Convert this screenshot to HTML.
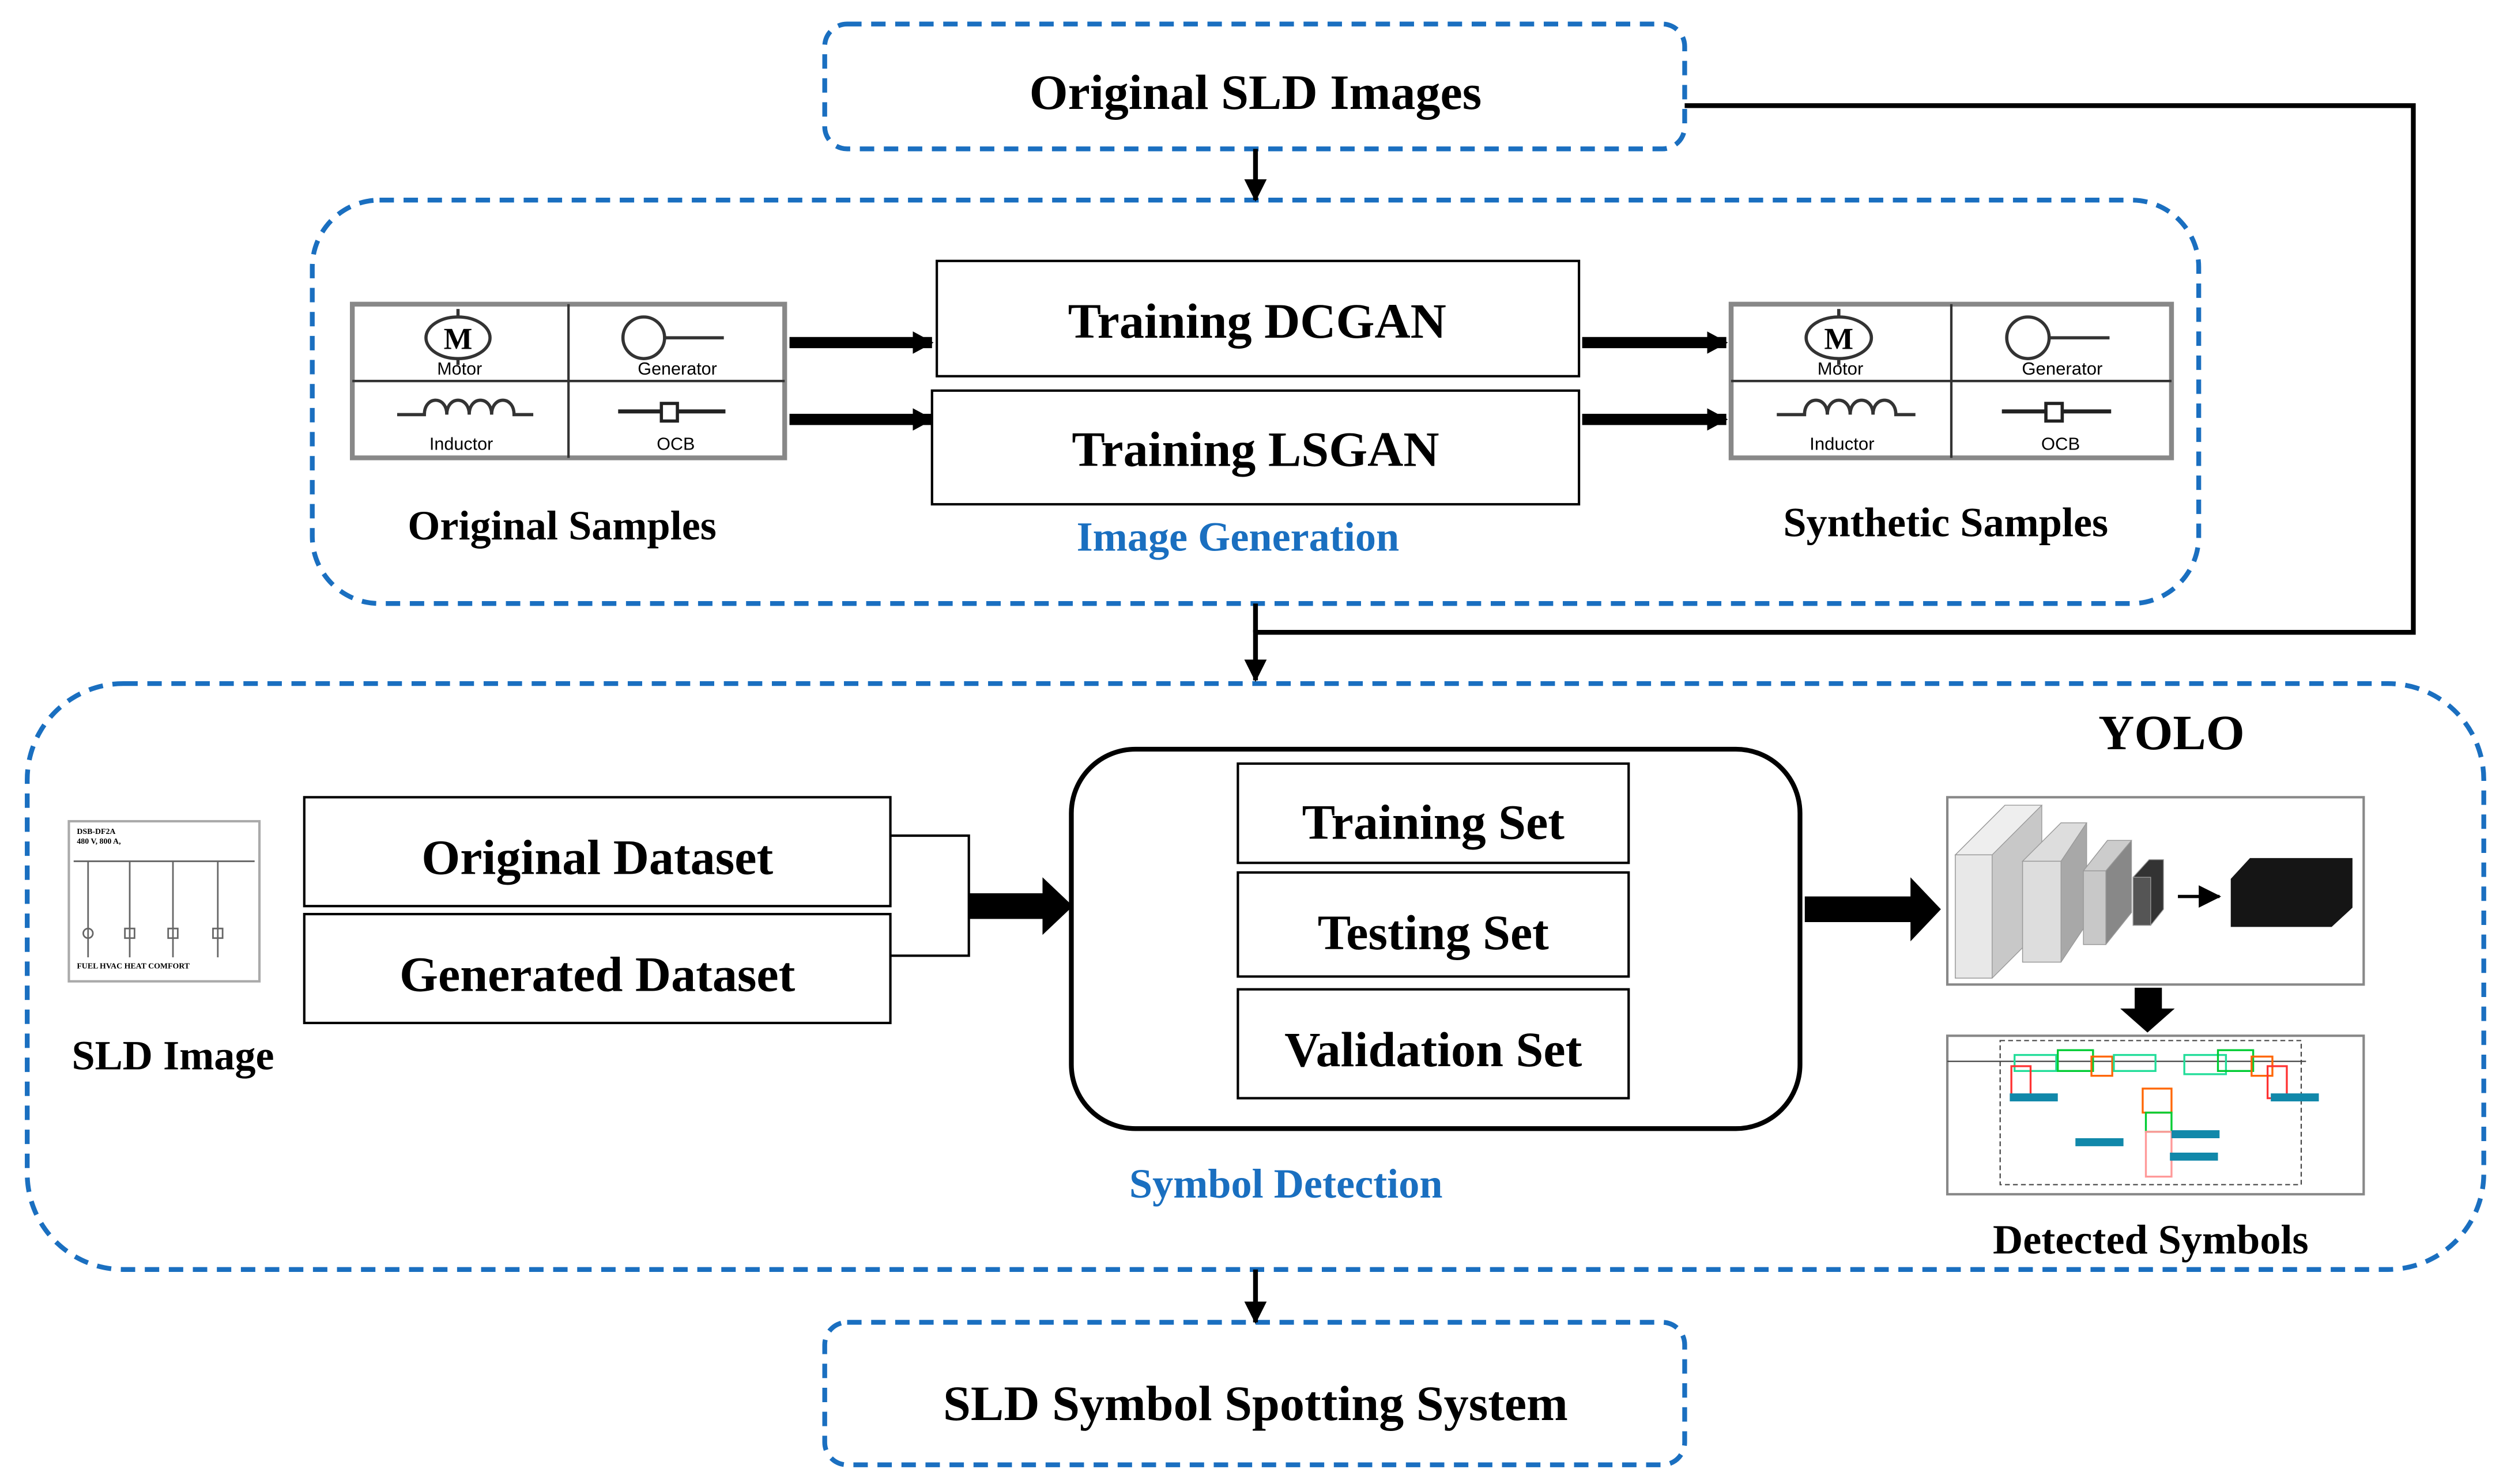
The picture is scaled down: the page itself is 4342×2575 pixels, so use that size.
<!DOCTYPE html>
<html><head><meta charset="utf-8"><style>
html,body{margin:0;padding:0;background:#fff}
svg{display:block}
text{font-family:"Liberation Serif",serif;font-weight:bold}
.t{font-size:31px;text-anchor:middle}
.l{font-size:26px;text-anchor:middle}
.b{fill:#1a6fc0}
.s{font-family:"Liberation Sans",sans-serif;font-weight:normal;font-size:11px;text-anchor:middle}
</style></head><body>
<svg width="4342" height="2575" viewBox="0 0 1563 927" preserveAspectRatio="none" xmlns="http://www.w3.org/2000/svg">
<defs>
<marker id="a" markerWidth="14" markerHeight="14" refX="13" refY="7" orient="auto" markerUnits="userSpaceOnUse"><path d="M0,0L14,7L0,14z" fill="#000"/></marker>
<marker id="a2" markerWidth="14" markerHeight="14" refX="12" refY="7" orient="auto" markerUnits="userSpaceOnUse"><path d="M0,0L13,7L0,14z" fill="#000"/></marker>
</defs>
<g fill="none" stroke="#1a6fc0" stroke-width="3" stroke-dasharray="9,6">
<rect x="515" y="15" width="537" height="78" rx="14"/>
<rect x="195" y="125" width="1178" height="252" rx="42"/>
<rect x="17" y="427" width="1534" height="366" rx="60"/>
<rect x="515" y="826" width="537" height="89" rx="14"/>
</g>
<text class="t" x="784" y="68">Original SLD Images</text>
<text class="t" x="784" y="887">SLD Symbol Spotting System</text>
<g stroke="#000" stroke-width="3" fill="none">
<path d="M1052,66H1507V395H784V425" marker-end="url(#a)"/>
<path d="M784,93V125" marker-end="url(#a)"/>
<path d="M784,377V395"/>
<path d="M784,793V826" marker-end="url(#a)"/>
</g>
<g stroke="#000" stroke-width="7" fill="none">
<path d="M493,214H582" marker-end="url(#a2)"/>
<path d="M493,262H582" marker-end="url(#a2)"/>
<path d="M988,214H1078" marker-end="url(#a2)"/>
<path d="M988,262H1078" marker-end="url(#a2)"/>
</g>
<g stroke="#000" stroke-width="1.5" fill="#fff">
<rect x="585" y="163" width="401" height="72"/>
<rect x="582" y="244" width="404" height="71"/>
</g>
<text class="t" x="785" y="211">Training DCGAN</text>
<text class="t" x="784" y="291">Training LSGAN</text>
<text class="l" x="351" y="337">Original Samples</text>
<text class="l b" x="773" y="344">Image Generation</text>
<text class="l" x="1215" y="335">Synthetic Samples</text>
<g transform="translate(220,190)">
<rect x="0" y="0" width="270" height="96" fill="#fff" stroke="#888" stroke-width="3"/>
<path d="M135,0V96M0,48H270" stroke="#333" stroke-width="1.5"/>
<ellipse cx="66" cy="21" rx="20" ry="13" fill="none" stroke="#333" stroke-width="2"/>
<path d="M66,3V8M66,34V38" stroke="#333" stroke-width="2"/>
<text x="66" y="28" font-size="19" text-anchor="middle">M</text>
<text class="s" x="67" y="44">Motor</text>
<circle cx="182" cy="21" r="13" fill="none" stroke="#333" stroke-width="2"/>
<path d="M195,21H232" stroke="#333" stroke-width="2"/>
<text class="s" x="203" y="44">Generator</text>
<path d="M28,69H45c0,-12 14,-12 14,0c0,-12 14,-12 14,0c0,-12 14,-12 14,0c0,-12 14,-12 14,0H113" fill="none" stroke="#333" stroke-width="2"/>
<text class="s" x="68" y="91">Inductor</text>
<path d="M166,67H233" stroke="#222" stroke-width="2.5"/>
<rect x="193" y="62" width="10" height="11" fill="#fff" stroke="#222" stroke-width="2"/>
<text class="s" x="202" y="91">OCB</text>
</g>
<g transform="translate(1081,190) scale(1.0185,1)">
<rect x="0" y="0" width="270" height="96" fill="#fff" stroke="#888" stroke-width="3"/>
<path d="M135,0V96M0,48H270" stroke="#333" stroke-width="1.5"/>
<ellipse cx="66" cy="21" rx="20" ry="13" fill="none" stroke="#333" stroke-width="2"/>
<path d="M66,3V8M66,34V38" stroke="#333" stroke-width="2"/>
<text x="66" y="28" font-size="19" text-anchor="middle">M</text>
<text class="s" x="67" y="44">Motor</text>
<circle cx="182" cy="21" r="13" fill="none" stroke="#333" stroke-width="2"/>
<path d="M195,21H232" stroke="#333" stroke-width="2"/>
<text class="s" x="203" y="44">Generator</text>
<path d="M28,69H45c0,-12 14,-12 14,0c0,-12 14,-12 14,0c0,-12 14,-12 14,0c0,-12 14,-12 14,0H113" fill="none" stroke="#333" stroke-width="2"/>
<text class="s" x="68" y="91">Inductor</text>
<path d="M166,67H233" stroke="#222" stroke-width="2.5"/>
<rect x="193" y="62" width="10" height="11" fill="#fff" stroke="#222" stroke-width="2"/>
<text class="s" x="202" y="91">OCB</text>
</g>
<g transform="translate(43,513)">
<rect width="119" height="100" fill="#fff" stroke="#aaa" stroke-width="1.5"/>
<path d="M3,25H116M12,25V85M38,25V85M65,25V85M93,25V85" stroke="#666" stroke-width="1"/>
<text x="5" y="8" font-size="5" font-family="Liberation Sans" font-weight="normal">DSB-DF2A</text>
<text x="5" y="14" font-size="5" font-family="Liberation Sans" font-weight="normal">480 V, 800 A,</text>
<g fill="none" stroke="#666"><circle cx="12" cy="70" r="3"/><rect x="35" y="67" width="6" height="6"/><rect x="62" y="67" width="6" height="6"/><rect x="90" y="67" width="6" height="6"/></g>
<text x="5" y="92" font-size="5" font-family="Liberation Sans" font-weight="normal">FUEL  HVAC  HEAT  COMFORT</text>
</g>
<text class="l" x="108" y="668">SLD Image</text>
<g stroke="#000" stroke-width="1.5" fill="#fff">
<rect x="190" y="498" width="366" height="68"/>
<rect x="190" y="571" width="366" height="68"/>
<rect x="773" y="477" width="244" height="62"/>
<rect x="773" y="545" width="244" height="65"/>
<rect x="773" y="618" width="244" height="68"/>
</g>
<path d="M556,522H605V597H556" fill="none" stroke="#000" stroke-width="1.5"/>
<text class="t" x="373" y="546">Original Dataset</text>
<text class="t" x="373" y="619">Generated Dataset</text>
<rect x="669" y="468" width="455" height="237" rx="40" fill="none" stroke="#000" stroke-width="3"/>
<text class="t" x="895" y="524">Training Set</text>
<text class="t" x="895" y="593">Testing Set</text>
<text class="t" x="895" y="666">Validation Set</text>
<path d="M605,566H655" stroke="#000" stroke-width="16" fill="none"/>
<path d="M651,548L670,566L651,584z" fill="#000"/>
<path d="M1127,568H1195" stroke="#000" stroke-width="16"/>
<path d="M1193,548L1212,568L1193,588z" fill="#000"/>
<text class="l b" x="803" y="748">Symbol Detection</text>
<text class="t" x="1356" y="468">YOLO</text>
<rect x="1216" y="498" width="260" height="117" fill="#fff" stroke="#888" stroke-width="1.5"/>
<g stroke="#999" stroke-width="0.5">
<path d="M1221,534L1252,503H1275V580L1244,611H1221z" fill="#c8c8c8"/><path d="M1221,534L1252,503H1275L1244,534z" fill="#eee"/><rect x="1221" y="534" width="23" height="77" fill="#e8e8e8"/>
<path d="M1263,538L1287,514H1303V577L1287,601H1263z" fill="#a8a8a8"/><path d="M1263,538L1287,514H1303L1287,538z" fill="#ddd"/><rect x="1263" y="538" width="24" height="63" fill="#ddd"/>
<path d="M1301,544L1316,525H1331V570L1315,590H1301z" fill="#888"/><path d="M1301,544L1316,525H1331L1315,544z" fill="#ccc"/><rect x="1301" y="544" width="14" height="46" fill="#c8c8c8"/>
<path d="M1332,548L1342,537H1351V568L1343,578H1332z" fill="#333"/><rect x="1332" y="548" width="11" height="30" fill="#555"/>
</g>
<path d="M1393,549L1405,536H1469V567L1456,579H1393z" fill="#151515"/>
<path d="M1360,560H1386" stroke="#000" stroke-width="2" marker-end="url(#a)"/>
<path d="M1333,617H1350V630H1358L1341,645L1324,630H1333z" fill="#000"/>
<rect x="1216" y="647" width="260" height="99" fill="#fff" stroke="#888" stroke-width="1.5"/>
<rect x="1249" y="650" width="188" height="90" fill="none" stroke="#444" stroke-dasharray="3,2" stroke-width="0.8"/>
<path d="M1216,663H1440" stroke="#444" stroke-width="0.8"/>
<g fill="none" stroke-width="1.2">
<rect x="1258" y="659" width="26" height="10" stroke="#2d9"/><rect x="1285" y="656" width="22" height="13" stroke="#0c3"/><rect x="1306" y="660" width="13" height="12" stroke="#f60"/><rect x="1320" y="659" width="26" height="10" stroke="#2d9"/><rect x="1364" y="659" width="26" height="12" stroke="#2d9"/><rect x="1385" y="656" width="22" height="13" stroke="#0c3"/><rect x="1406" y="660" width="13" height="12" stroke="#f60"/><rect x="1338" y="680" width="18" height="15" stroke="#f60"/><rect x="1340" y="695" width="16" height="12" stroke="#0c3"/><rect x="1340" y="707" width="16" height="28" stroke="#f99"/><rect x="1256" y="666" width="12" height="20" stroke="#f33"/><rect x="1416" y="666" width="12" height="20" stroke="#f33"/>
</g>
<g fill="#18a"><rect x="1255" y="683" width="30" height="5"/><rect x="1418" y="683" width="30" height="5"/><rect x="1296" y="711" width="30" height="5"/><rect x="1356" y="706" width="30" height="5"/><rect x="1355" y="720" width="30" height="5"/></g>
<text class="l" x="1343" y="783">Detected Symbols</text>
</svg>
</body></html>
